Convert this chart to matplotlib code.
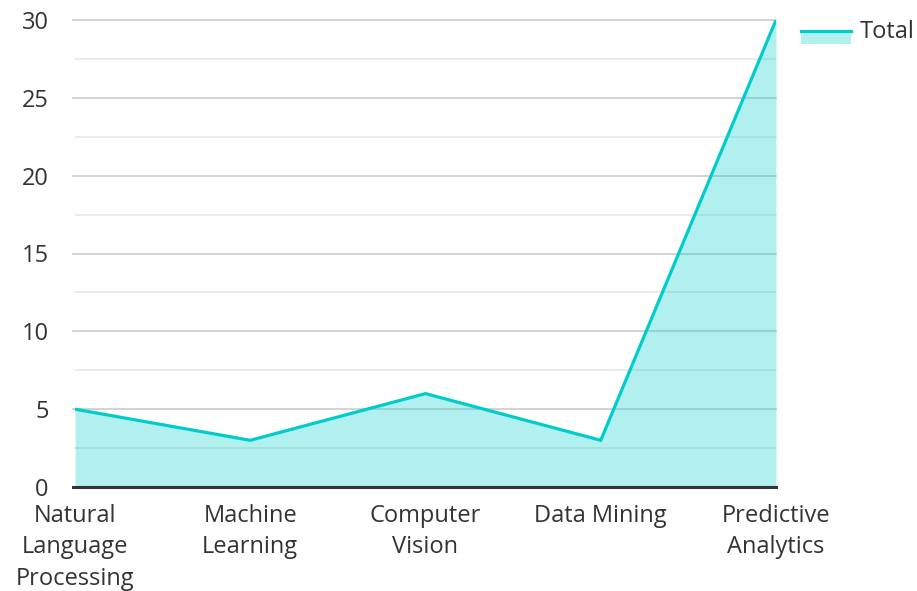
import matplotlib
matplotlib.use("Agg")
import matplotlib.pyplot as plt
from matplotlib.lines import Line2D
from matplotlib.patches import Rectangle

plt.rcParams['font.family'] = ['Open Sans', 'DejaVu Sans']

categories = ["Natural\nLanguage\nProcessing", "Machine\nLearning", "Computer\nVision",
              "Data Mining", "Predictive\nAnalytics"]
totals = [5, 3, 6, 3, 30]
y_ticks = [0, 5, 10, 15, 20, 25, 30]
minor_ticks = [2.5, 7.5, 12.5, 17.5, 22.5, 27.5]
series_name = "Total"

line_color = "#00CCCC"
fill_color = "#00CCCC"
text_color = "#333333"
fs = 17

fig = plt.figure(figsize=(9.17, 5.91), dpi=100)
ax = fig.add_axes([75/917, 1-487/591, (776-75)/917, (487-20)/591])

x = list(range(len(categories)))
ax.fill_between(x, totals, 0, color=fill_color, alpha=0.3, linewidth=0, zorder=2)
ax.plot(x, totals, color=line_color, linewidth=2.3, zorder=4, solid_joinstyle='miter')

ax.set_xlim(0, len(categories)-1)
ax.set_ylim(0, 30)
ax.set_yticks(y_ticks)
ax.set_yticks(minor_ticks, minor=True)
for yv in y_ticks[1:]:
    ax.axhline(yv, color="#c8c8c8", linewidth=1.1, zorder=1.5, xmin=-0.003, clip_on=False)
for yv in minor_ticks:
    ax.axhline(yv, color="#e6e6e6", linewidth=1.1, zorder=1.5, clip_on=False)
ax.axhline(0, color="#333333", linewidth=2.2, zorder=5, xmin=-0.003, clip_on=False)

ax.set_xticks(x)
ax.set_xticklabels(categories, fontsize=fs, color=text_color, linespacing=1.42)
ax.tick_params(axis='y', which='both', length=0, labelsize=fs, labelcolor=text_color, pad=19)
ax.tick_params(axis='x', length=0, pad=12)
for lbl in ax.get_yticklabels():
    lbl.set_horizontalalignment('right')
for s in ax.spines.values():
    s.set_visible(False)

# legend
fig.patches.append(Rectangle((801/917, 1-44/591), 50/917, 13/591, transform=fig.transFigure,
                             facecolor=fill_color, alpha=0.3, linewidth=0))
fig.lines.append(Line2D([801/917, 851/917], [1-31/591, 1-31/591], transform=fig.transFigure,
                        color=line_color, linewidth=2.3))
fig.text(860/917, 1-32/591, series_name, fontsize=fs, color=text_color, va='center', ha='left')

fig.savefig("out.png", dpi=100)
